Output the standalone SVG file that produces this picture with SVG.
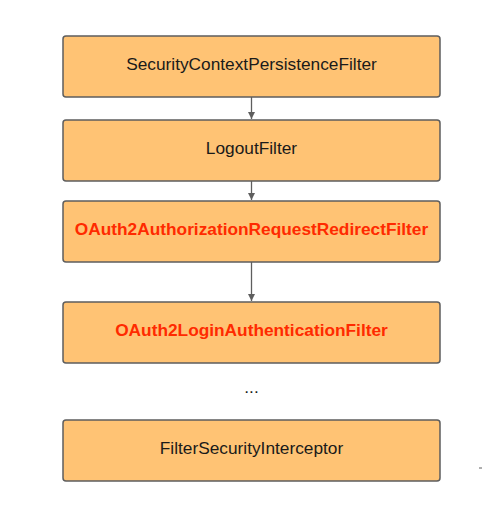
<svg xmlns="http://www.w3.org/2000/svg" width="482" height="530" viewBox="0 0 482 530">
<style>
.box{fill:#FFC374;stroke:#5E5E5E;stroke-width:1.5}
.t{font-family:"Liberation Sans",Arial,sans-serif;font-size:17.3px;fill:#1a1a1a;text-anchor:middle}
.r{fill:#FF2A00;font-weight:bold}
.c{stroke:#5E5E5E;stroke-width:1.3;fill:none}
</style>
<defs>
<marker id="ah" markerWidth="8" markerHeight="8" refX="7" refY="4" orient="auto" markerUnits="userSpaceOnUse">
<path d="M0,0.5 L7,4 L0,7.5 Z" fill="#5E5E5E"/>
</marker>
</defs>
<rect width="482" height="530" fill="#ffffff"/>
<g id="connectors">
<line class="c" x1="251.5" y1="97" x2="251.5" y2="119" marker-end="url(#ah)"/>
<line class="c" x1="251.5" y1="181" x2="251.5" y2="200" marker-end="url(#ah)"/>
<line class="c" x1="251.5" y1="262" x2="251.5" y2="301" marker-end="url(#ah)"/>
</g>
<g id="n1"><rect class="box" x="63" y="36" width="377" height="61" rx="3"/><text class="t" x="251.5" y="70">SecurityContextPersistenceFilter</text></g>
<g id="n2"><rect class="box" x="63" y="120" width="377" height="61" rx="3"/><text class="t" x="251.5" y="153.5">LogoutFilter</text></g>
<g id="n3"><rect class="box" x="63" y="201" width="377" height="61" rx="3"/><text class="t r" x="251.5" y="234.5">OAuth2AuthorizationRequestRedirectFilter</text></g>
<g id="n4"><rect class="box" x="63" y="302" width="377" height="61" rx="3"/><text class="t r" x="251.5" y="335.5">OAuth2LoginAuthenticationFilter</text></g>
<g id="n5"><text class="t" x="251.5" y="393">...</text></g>
<g id="n6"><rect class="box" x="63" y="420" width="377" height="61" rx="3"/><text class="t" x="251.5" y="454">FilterSecurityInterceptor</text></g>
<line x1="479" y1="468" x2="482" y2="468" stroke="#5E5E5E" stroke-width="1"/>
</svg>
